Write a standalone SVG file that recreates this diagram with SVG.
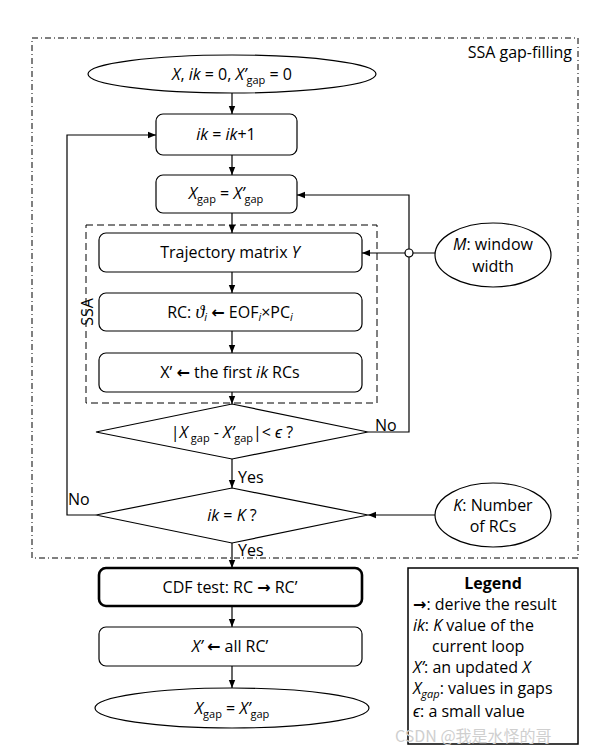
<svg xmlns="http://www.w3.org/2000/svg" width="603" height="752" viewBox="0 0 603 752">
<defs><marker id="a" viewBox="0 0 10 10" refX="10" refY="5" markerWidth="7" markerHeight="7" orient="auto"><path d="M0,1 L10,5 L0,9 z" fill="#000"/></marker></defs>
<style>
text{font-family:"Open Sans","Liberation Sans",sans-serif;font-size:16px;fill:#000}
.b{fill:#fff;stroke:#000;stroke-width:1.2}
.c{fill:none;stroke:#000;stroke-width:1.2}
.s{font-size:11px}
.ar{font-family:"DejaVu Sans",sans-serif;font-weight:bold}
</style>
<rect x="0" y="0" width="603" height="752" fill="#fff"/>
<rect x="32" y="38" width="546" height="520" fill="none" stroke="#000" stroke-dasharray="6,3,1,3"/>
<text x="572" y="58" text-anchor="end">SSA gap-filling</text>
<rect x="86" y="225" width="291" height="178" fill="none" stroke="#000" stroke-dasharray="7,4"/>
<text transform="translate(93,312) rotate(-90)" text-anchor="middle">SSA</text>
<g id="connectors" class="c">
<line x1="232" y1="93" x2="232" y2="114" marker-end="url(#a)"/>
<line x1="232" y1="155" x2="232" y2="175" marker-end="url(#a)"/>
<line x1="232" y1="213" x2="232" y2="233" marker-end="url(#a)"/>
<line x1="232" y1="272" x2="232" y2="293" marker-end="url(#a)"/>
<line x1="232" y1="331" x2="232" y2="353" marker-end="url(#a)"/>
<line x1="232" y1="392" x2="232" y2="404" marker-end="url(#a)"/>
<line x1="232" y1="459" x2="232" y2="488" marker-end="url(#a)"/>
<line x1="232" y1="543" x2="232" y2="568" marker-end="url(#a)"/>
<line x1="232" y1="606" x2="232" y2="627" marker-end="url(#a)"/>
<line x1="232" y1="666" x2="232" y2="688" marker-end="url(#a)"/>
<polyline points="368,432 409,432 409,195 297,195" marker-end="url(#a)"/>
<line x1="435" y1="253" x2="362" y2="253" marker-end="url(#a)"/>
<circle cx="409" cy="253" r="4" fill="#fff"/>
<polyline points="96,515 67,515 67,135 156,135" marker-end="url(#a)"/>
<line x1="435" y1="515" x2="368" y2="515" marker-end="url(#a)"/>
</g>
<text x="375" y="431">No</text>
<text x="68" y="505">No</text>
<text x="238" y="483">Yes</text>
<text x="238" y="556">Yes</text>
<g id="start"><ellipse class="b" cx="232" cy="74" rx="144" ry="19"/><text x="232" y="80" text-anchor="middle"><tspan font-style="italic">X</tspan>, <tspan font-style="italic">ik</tspan> = 0, <tspan font-style="italic">X’</tspan><tspan class="s" dy="4">gap</tspan><tspan dy="-4"> = 0</tspan></text></g>
<g id="ik"><rect class="b" x="156" y="114" width="141" height="41" rx="7"/><text x="226" y="140" text-anchor="middle"><tspan font-style="italic">ik</tspan> = <tspan font-style="italic">ik</tspan>+1</text></g>
<g id="xgap"><rect class="b" x="156" y="175" width="141" height="38" rx="7"/><text x="226" y="199" text-anchor="middle"><tspan font-style="italic">X</tspan><tspan class="s" dy="4">gap</tspan><tspan dy="-4"> = </tspan><tspan font-style="italic">X’</tspan><tspan class="s" dy="4">gap</tspan></text></g>
<g id="traj"><rect class="b" x="99" y="233" width="263" height="39" rx="7"/><text x="230" y="258" text-anchor="middle">Trajectory matrix <tspan font-style="italic">Y</tspan></text></g>
<g id="rc"><rect class="b" x="99" y="293" width="263" height="38" rx="7"/><text x="230" y="318" text-anchor="middle">RC: <tspan font-style="italic" font-family="Liberation Serif,serif" font-size="18">ϑ</tspan><tspan class="s" font-style="italic" dy="3">i</tspan><tspan dy="-3"> </tspan><tspan class="ar">←</tspan><tspan> EOF</tspan><tspan class="s" font-style="italic" dy="3">i</tspan><tspan dy="-3">×PC</tspan><tspan class="s" font-style="italic" dy="3">i</tspan></text></g>
<g id="xp"><rect class="b" x="99" y="353" width="263" height="39" rx="7"/><text x="230" y="378" text-anchor="middle">X’ <tspan class="ar">←</tspan> the first <tspan font-style="italic">ik</tspan> RCs</text></g>
<g id="d1"><polygon class="b" points="232,404 368,432 232,459 96,432"/><text x="232" y="438" text-anchor="middle">|<tspan font-style="italic">X</tspan><tspan class="s" dy="4"> gap</tspan><tspan dy="-4"> - </tspan><tspan font-style="italic">X’</tspan><tspan class="s" dy="4">gap</tspan><tspan dy="-4">|&lt; </tspan><tspan font-style="italic">ϵ</tspan> ?</text></g>
<g id="d2"><polygon class="b" points="232,488 368,515 232,543 96,515"/><text x="232" y="521" text-anchor="middle"><tspan font-style="italic">ik</tspan> = <tspan font-style="italic">K</tspan> ?</text></g>
<g id="m"><ellipse class="b" cx="493" cy="255" rx="58" ry="32"/><text x="493" y="250" text-anchor="middle"><tspan font-style="italic">M</tspan>: window</text><text x="493" y="272" text-anchor="middle">width</text></g>
<g id="k"><ellipse class="b" cx="493" cy="515" rx="58" ry="32"/><text x="493" y="511" text-anchor="middle"><tspan font-style="italic">K</tspan>: Number</text><text x="493" y="532" text-anchor="middle">of RCs</text></g>
<g id="cdf"><rect x="99" y="568" width="263" height="38" rx="7" fill="#fff" stroke="#000" stroke-width="2.6"/><text x="230" y="593" text-anchor="middle">CDF test: RC <tspan class="ar">→</tspan> RC’</text></g>
<g id="all"><rect class="b" x="99" y="627" width="263" height="39" rx="7"/><text x="230" y="652" text-anchor="middle"><tspan font-style="italic">X’</tspan> <tspan class="ar">←</tspan> all RC’</text></g>
<g id="end"><ellipse class="b" cx="232" cy="708" rx="137" ry="20"/><text x="232" y="714" text-anchor="middle"><tspan font-style="italic">X</tspan><tspan class="s" dy="4">gap</tspan><tspan dy="-4"> = </tspan><tspan font-style="italic">X’</tspan><tspan class="s" dy="4">gap</tspan></text></g>
<g id="legend"><rect x="408" y="568" width="170" height="176" fill="#fff" stroke="#000" stroke-width="1.5"/>
<text x="493" y="589" text-anchor="middle" font-weight="bold">Legend</text>
<text x="413" y="610"><tspan class="ar">→</tspan>: derive the result</text>
<text x="413" y="631"><tspan font-style="italic">ik</tspan>: <tspan font-style="italic">K</tspan> value of the</text>
<text x="432" y="652">current loop</text>
<text x="413" y="673"><tspan font-style="italic">X’</tspan>: an updated <tspan font-style="italic">X</tspan></text>
<text x="413" y="694"><tspan font-style="italic">X</tspan><tspan class="s" font-style="italic" dy="4">gap</tspan><tspan dy="-4">: values in gaps</tspan></text>
<text x="413" y="717"><tspan font-style="italic">ϵ</tspan>: a small value</text></g>
<text x="395" y="742" style="fill:#cfcfcf;font-family:'Noto Sans CJK SC',sans-serif;font-size:16px">CSDN @我是水怪的哥</text>
</svg>
